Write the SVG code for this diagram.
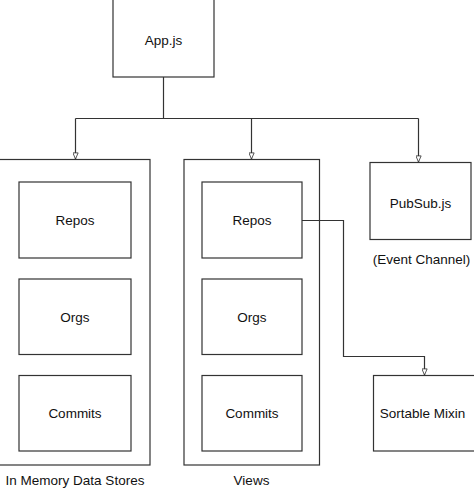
<svg xmlns="http://www.w3.org/2000/svg" width="474" height="495" viewBox="0 0 474 495">
<style>
.box{fill:#fff;stroke:#333;stroke-width:1.2}
.ln{fill:none;stroke:#333;stroke-width:1.2}
text{font-family:"Liberation Sans",Arial,sans-serif;font-size:13.5px;fill:#111;text-anchor:middle;dominant-baseline:central}
</style>
<defs>
<marker id="arr" viewBox="0 0 8 8" refX="7.5" refY="4" markerWidth="7" markerHeight="6" markerUnits="userSpaceOnUse" orient="auto" preserveAspectRatio="none">
<path d="M0.5,0.5 L7.5,4 L0.5,7.5 Z" fill="#fff" stroke="#333" stroke-width="1"/>
</marker>
</defs>
<rect width="474" height="495" fill="#fff"/>
<g id="app">
<rect class="box" x="113" y="-2" width="101" height="79"/>
<text x="163.5" y="40">App.js</text>
</g>
<g id="stores">
<rect class="box" x="-1" y="159.5" width="151" height="305.5"/>
<text x="75" y="480">In Memory Data Stores</text>
</g>
<g id="stores-repos">
<rect class="box" x="19" y="182" width="112" height="76"/>
<text x="75" y="220">Repos</text>
</g>
<g id="stores-orgs">
<rect class="box" x="19" y="279" width="112" height="75.5"/>
<text x="75" y="317">Orgs</text>
</g>
<g id="stores-commits">
<rect class="box" x="19" y="375.5" width="112" height="75.5"/>
<text x="75" y="413.5">Commits</text>
</g>
<g id="views">
<rect class="box" x="184" y="159.5" width="135.5" height="305.5"/>
<text x="251.5" y="480">Views</text>
</g>
<g id="views-repos">
<rect class="box" x="202" y="182" width="100" height="76"/>
<text x="252" y="220">Repos</text>
</g>
<g id="views-orgs">
<rect class="box" x="202" y="279" width="100" height="75.5"/>
<text x="252" y="317">Orgs</text>
</g>
<g id="views-commits">
<rect class="box" x="202" y="375.5" width="100" height="75.5"/>
<text x="252" y="413.5">Commits</text>
</g>
<g id="pubsub">
<rect class="box" x="370" y="162.5" width="101" height="77"/>
<text x="420.5" y="203">PubSub.js</text>
<text x="421.5" y="259.5">(Event Channel)</text>
</g>
<g id="sortable">
<rect class="box" x="373.5" y="375.5" width="102" height="75.5"/>
<text x="422.5" y="413.5">Sortable Mixin</text>
</g>
<g id="connectors">
<path class="ln" d="M163.5,77 V118.5"/>
<path class="ln" d="M75.5,118.5 H418.5"/>
<path class="ln" d="M75.5,118.5 V159" marker-end="url(#arr)"/>
<path class="ln" d="M251.5,118.5 V159" marker-end="url(#arr)"/>
<path class="ln" d="M418.5,118.5 V162" marker-end="url(#arr)"/>
<path class="ln" d="M302,220.5 H343.5 V356.5 H424.5 V375" marker-end="url(#arr)"/>
</g>
</svg>
